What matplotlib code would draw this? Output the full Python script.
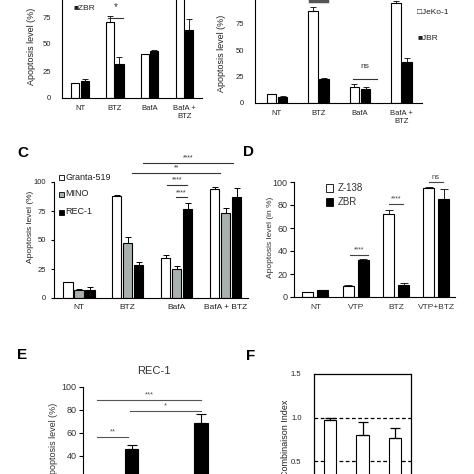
import numpy as np
import matplotlib
matplotlib.use('Agg')
import matplotlib.pyplot as plt
from matplotlib.patches import Rectangle

plt.rcParams['font.family'] = ['Liberation Sans', 'DejaVu Sans']

W = H = 474

# panel A : Z-138 vs ZBR
a_groups = ['NT', 'BTZ', 'BafA', 'BafA +\nBTZ']
a_z138 = [13.6, 70.7, 40.7, 95.0]
a_z138_err = [0, 5.0, 0, 2.0]
a_zbr = [15.7, 31.2, 43.8, 63.0]
a_zbr_err = [1.8, 6.5, 1.0, 10.0]

# panel B : JeKo-1 vs JBR
b_groups = ['NT', 'BTZ', 'BafA', 'BafA +\nBTZ']
b_jeko = [8.0, 87.6, 15.2, 95.3]
b_jeko_err = [0, 3.2, 2.6, 2.0]
b_jbr = [5.7, 22.6, 12.7, 38.5]
b_jbr_err = [1.0, 0.5, 2.0, 3.8]

# panel C : three cell lines
c_groups = ['NT', 'BTZ', 'BafA', 'BafA + BTZ']
c_granta = [13.8, 88.2, 34.2, 93.7]
c_granta_err = [0, 0.5, 2.9, 2.3]
c_mino = [7.2, 47.7, 24.7, 73.0]
c_mino_err = [0.5, 5.2, 3.1, 4.9]
c_rec1 = [7.0, 28.7, 76.5, 87.3]
c_rec1_err = [2.7, 2.0, 5.2, 7.3]

# panel D : Z-138 vs ZBR with VTP
d_groups = ['NT', 'VTP', 'BTZ', 'VTP+BTZ']
d_z138 = [4.3, 9.6, 72.5, 95.1]
d_z138_err = [0.3, 1.2, 3.0, 0.4]
d_zbr = [5.8, 32.5, 10.1, 85.5]
d_zbr_err = [0.5, 0.5, 2.3, 8.2]

# panel E : REC-1 (lower part of the panel is cropped away)
e_rec1 = [10.0, 46.0, 18.0, 68.4]
e_rec1_err = [2.0, 4.0, 3.0, 7.8]

# panel F : combination index
f_ci = [0.974, 0.80, 0.76]
f_ci_err = [0.02, 0.15, 0.12]

fig = plt.figure(figsize=(W / 100, H / 100), dpi=100)
fig.patch.set_facecolor('white')


def axes_px(left, right, top, bottom):
    # place an axes from pixel coordinates of the 474x474 picture
    return fig.add_axes([left / W, 1 - bottom / H, (right - left) / W, (bottom - top) / H])


def draw_bars(ax, x, vals, err, width, color, capsize=2.5, elw=0.6):
    ax.bar(x, vals, width, color=color, edgecolor='black', linewidth=0.8,
           yerr=[np.zeros(len(err)), err],
           error_kw=dict(ecolor='black', lw=elw, capsize=capsize, capthick=elw))


def sig(ax, x1, x2, y, label, dy, fs=5.5, color='#333333'):
    ax.plot([x1, x2], [y, y], color=color, lw=0.8, clip_on=False)
    ax.text((x1 + x2) / 2, y + dy, label, ha='center', va='bottom', fontsize=fs,
            color=color, clip_on=False)


def legend_px(x, y, label, fc, size=5.0, fs=6.0, gap=2.0, color='#222222'):
    fig.add_artist(Rectangle(((x - size / 2) / W, 1 - (y + size / 2) / H), size / W, size / H,
                             transform=fig.transFigure, facecolor=fc, edgecolor='black', lw=0.6))
    fig.text((x + size / 2 + gap) / W, 1 - y / H, label, ha='left', va='center',
             fontsize=fs, color=color)


def excel_style(ax):
    for s in ['top', 'right']:
        ax.spines[s].set_visible(False)
    ax.spines['left'].set_linewidth(0.8)
    ax.spines['bottom'].set_linewidth(0.8)
    ax.patch.set_alpha(0)


# ---------------- panel A ----------------
ax = axes_px(62, 202, -10, 98)
x = np.arange(len(a_groups))
draw_bars(ax, x - 0.135, a_z138, a_z138_err, 0.24, 'white')
draw_bars(ax, x + 0.135, a_zbr, a_zbr_err, 0.24, 'black')
ax.set_xlim(-0.517, 3.506)
ax.set_ylim(0, 100)
ax.set_yticks([0, 25, 50, 75])
ax.set_xticks(x)
ax.set_xticklabels(a_groups, fontsize=5.5, color='#222222', linespacing=1.3)
ax.tick_params(axis='y', length=0, pad=8, labelsize=5.5, labelcolor='#222222')
ax.tick_params(axis='x', length=0, pad=5)
excel_style(ax)
sig(ax, 0.80, 1.24, 73.8, '*', 6, fs=7)
fig.text(32 / W, 1 - 85 / H, 'Apoptosis level (%)', rotation=90, ha='center', va='bottom',
         fontsize=6.5, color='#222222')
fig.text(73 / W, 1 - 9 / H, '\u25a0ZBR', ha='left', va='center', fontsize=6, color='#222222')

# ---------------- panel B ----------------
ax = axes_px(255.3, 422, -2.3, 102.7)
x = np.arange(len(b_groups))
draw_bars(ax, x - 0.135, b_jeko, b_jeko_err, 0.23, 'white')
draw_bars(ax, x + 0.135, b_jbr, b_jbr_err, 0.23, 'black')
ax.set_xlim(-0.52, 3.49)
ax.set_ylim(0, 100)
ax.set_yticks([0, 25, 50, 75])
ax.set_xticks(x)
ax.set_xticklabels(b_groups, fontsize=5.5, color='#222222', linespacing=1.3)
ax.tick_params(axis='y', length=0, pad=8, labelsize=5.5, labelcolor='#222222')
ax.tick_params(axis='x', length=0, pad=5)
excel_style(ax)
ax.plot([0.8, 1.2], [96.5, 96.5], color='#555555', lw=2.5, clip_on=False)
sig(ax, 1.84, 2.4, 22.9, 'ns', 8, fs=6)
fig.text(222 / W, 1 - 92 / H, 'Apoptosis level (%)', rotation=90, ha='center', va='bottom',
         fontsize=6.5, color='#222222')
fig.text(417 / W, 1 - 13 / H, '\u25a1JeKo-1', ha='left', va='center', fontsize=6, color='#222222')
fig.text(417 / W, 1 - 39 / H, '\u25a0JBR', ha='left', va='center', fontsize=6, color='#222222')

# ---------------- panel C ----------------
ax = axes_px(54, 248, 182, 298)
x = np.arange(len(c_groups))
draw_bars(ax, x - 0.225, c_granta, c_granta_err, 0.19, 'white', elw=0.7)
draw_bars(ax, x, c_mino, c_mino_err, 0.19, '#a9b1ae', elw=0.7)
draw_bars(ax, x + 0.225, c_rec1, c_rec1_err, 0.19, 'black', elw=0.7)
ax.set_xlim(-0.51, 3.46)
ax.set_ylim(0, 100)
ax.set_yticks([0, 25, 50, 75, 100])
ax.set_xticks(x)
ax.set_xticklabels(c_groups, fontsize=6, color='#222222')
ax.tick_params(axis='y', length=2, pad=4, labelsize=5.5, labelcolor='#222222')
ax.tick_params(axis='x', length=0, pad=4)
excel_style(ax)
sig(ax, 1.31, 3.16, 116.4, '****', 1.0, fs=5)
sig(ax, 1.09, 2.89, 107.8, '**', 1.0, fs=5)
sig(ax, 1.80, 2.21, 97.4, '****', 1.0, fs=5)
sig(ax, 1.99, 2.21, 87.0, '****', 1.0, fs=5)
fig.text(30 / W, 1 - 227 / H, 'Apoptosis level (%)', rotation=90, ha='center', va='center',
         fontsize=6, color='#222222')
legend_px(61, 177, 'Granta-519', 'white', fs=6.5)
legend_px(61, 194, 'MINO', '#a9b1ae', fs=6.5)
legend_px(61, 212, 'REC-1', 'black', fs=6.5)
fig.text(23 / W, 1 - 153 / H, 'C', ha='center', va='center', fontsize=11, fontweight='bold')

# ---------------- panel D ----------------
ax = axes_px(294, 455, 182, 297)
x = np.arange(len(d_groups))
draw_bars(ax, x - 0.186, d_z138, d_z138_err, 0.27, 'white', capsize=3)
draw_bars(ax, x + 0.186, d_zbr, d_zbr_err, 0.27, 'black', capsize=3)
ax.set_xlim(-0.53, 3.46)
ax.set_ylim(0, 100)
ax.set_yticks([0, 20, 40, 60, 80, 100])
ax.set_xticks(x)
ax.set_xticklabels(d_groups, fontsize=6, color='#333333')
ax.tick_params(axis='y', length=3, width=0.8, pad=1.5, labelsize=6.5, labelcolor='#333333')
ax.tick_params(axis='x', length=0, pad=5)
excel_style(ax)
sig(ax, 0.86, 1.30, 36.3, '****', 1.5, fs=5, color='#444444')
sig(ax, 1.82, 2.17, 80.6, '****', 1.5, fs=5, color='#444444')
sig(ax, 2.82, 3.16, 99.7, 'ns', 1.0, fs=5.5, color='#444444')
fig.text(270 / W, 1 - 237 / H, 'Apoptosis level (in %)', rotation=90, ha='center', va='center',
         fontsize=6, color='#333333')
legend_px(329, 188, 'Z-138', 'white', size=7, fs=7, gap=5, color='#333333')
legend_px(329, 202, 'ZBR', 'black', size=7, fs=7, gap=5, color='#333333')
fig.text(249 / W, 1 - 152 / H, 'D', ha='center', va='center', fontsize=11, fontweight='bold')

# ---------------- panel E ----------------
ax = axes_px(83, 225, 387, 502)
x = np.arange(len(e_rec1))
draw_bars(ax, x, e_rec1, e_rec1_err, 0.39, 'black', capsize=3.5, elw=0.8)
ax.set_xlim(-0.41, 3.7)
ax.set_ylim(0, 100)
ax.set_yticks([0, 20, 40, 60, 80, 100])
ax.set_xticks([])
ax.tick_params(axis='y', length=3, width=0.8, pad=1.5, labelsize=6.5, labelcolor='#333333')
excel_style(ax)
sig(ax, 0.0, 0.9, 56.8, '**', 1.0, fs=5.5, color='#555555')
sig(ax, 0.0, 3.0, 88.7, '***', 1.0, fs=5.5, color='#555555')
sig(ax, 0.96, 3.0, 79.4, '*', 1.0, fs=5.5, color='#555555')
ax.set_title('REC-1', fontsize=8, color='#333333', pad=9)
fig.text(53 / W, 1 - 403 / H, 'Apoptosis level (%)', rotation=90, ha='center', va='top',
         fontsize=6.5, color='#333333')
fig.text(22 / W, 1 - 355 / H, 'E', ha='center', va='center', fontsize=11, fontweight='bold')

# ---------------- panel F ----------------
ax = axes_px(314, 411, 374, 504.5)
x = np.arange(len(f_ci))
draw_bars(ax, x, f_ci, f_ci_err, 0.38, 'white', capsize=3.5, elw=0.9)
ax.axhline(1.0, color='black', lw=0.9, ls=(0, (3, 2)), zorder=0)
ax.axhline(0.5, color='black', lw=0.9, ls=(0, (3, 2)), zorder=0)
ax.set_xlim(-0.49, 2.49)
ax.set_ylim(0, 1.5)
ax.set_yticks([0.5, 1.0, 1.5])
ax.set_yticklabels(['0.5', '1.0', '1.5'])
ax.set_xticks([])
ax.tick_params(axis='y', length=0, pad=9, labelsize=5.5, labelcolor='#222222')
for s in ax.spines.values():
    s.set_linewidth(0.9)
fig.text(285 / W, 1 - 400 / H, 'Combinaison Index', rotation=90, ha='center', va='top',
         fontsize=6.5, color='#222222')
fig.text(251 / W, 1 - 356 / H, 'F', ha='center', va='center', fontsize=11, fontweight='bold')

fig.savefig('out.png', dpi=100, facecolor='white')
